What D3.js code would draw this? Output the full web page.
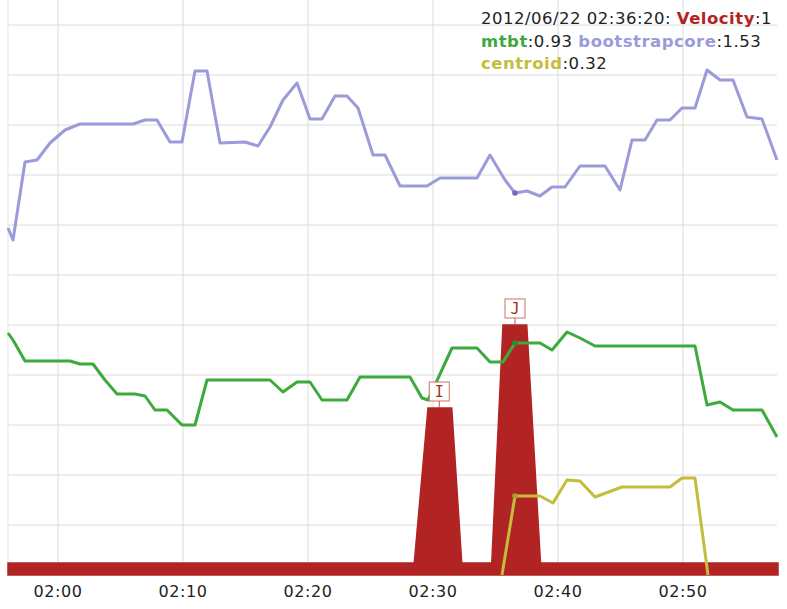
<!DOCTYPE html>
<html><head><meta charset="utf-8">
<script src="https://cdn.jsdelivr.net/npm/d3@7"></script>
<style>body{margin:0;background:#fff}svg{display:block}</style>
</head><body>
<svg id="c" width="787" height="609"></svg>
<script>
// minutes after 02:00, values in grid units
const tickMinutes = [0,10,20,30,40,50];
const tickLabels = ["02:00","02:10","02:20","02:30","02:40","02:50"];
const bootT = [-4,-3.6,-2.64,-1.68,-0.64,0.56,1.76,6,6.96,7.92,8.96,9.92,10.96,11.92,12.96,14.96,16,16.96,18,19.12,20.16,21.12,22.16,23.12,24,25.2,26.16,27.36,29.52,30.56,33.52,34.56,35.76,36.56,37.52,38.56,39.52,40.56,41.76,43.76,44.96,45.92,46.96,47.92,48.96,49.92,50.96,51.92,52.96,54,55.12,56.32,57.52];
const bootV = [6.94,6.7,8.26,8.3,8.64,8.9,9.02,9.02,9.1,9.1,8.66,8.66,10.08,10.08,8.64,8.66,8.58,8.96,9.5,9.84,9.12,9.12,9.58,9.58,9.34,8.4,8.4,7.78,7.78,7.94,7.94,8.4,7.9,7.64,7.68,7.58,7.76,7.76,8.18,8.18,7.7,8.7,8.7,9.1,9.1,9.34,9.34,10.1,9.9,9.9,9.16,9.12,8.3];
const mtbtT = [-4,-3.6,-2.64,0.96,1.76,2.8,3.76,4.72,6.16,6.96,7.76,8.72,9.92,10.96,11.92,16.96,18,19.12,20.16,21.12,23.12,24.16,28.16,29.12,29.6,30.16,31.52,33.52,34.56,35.6,36.56,38.56,39.52,40.72,41.76,42.96,50.96,51.92,52.96,54,56.32,57.52];
const mtbtV = [4.84,4.7,4.28,4.28,4.22,4.22,3.9,3.62,3.62,3.58,3.3,3.3,3,3,3.9,3.9,3.66,3.86,3.86,3.5,3.5,3.96,3.96,3.54,3.5,3.8,4.54,4.54,4.26,4.26,4.64,4.64,4.5,4.86,4.74,4.58,4.58,3.4,3.46,3.3,3.3,2.76];
const centT = [35.52,36.56,38.56,39.6,40.72,41.76,42.96,45.12,48.96,49.92,50.96,52];
const centV = [0,1.58,1.58,1.44,1.9,1.88,1.56,1.76,1.76,1.94,1.94,0];
const velT = [-4,28.5,29.6,31.5,32.3,34.7,35.6,37.5,38.6,57.6];
const velV = [0.24,0.24,3.34,3.34,0.24,0.24,5,5,0.24,0.24];
const flags = [{t:30.5,v:3.34,label:"I"},{t:36.56,v:5,label:"J"}];
const hoverT = 36.56;

const svg = d3.select("#c");
const x = d3.scaleLinear().domain([-4,57.52]).range([8,777]);
const y = d3.scaleLinear().domain([0,11.5]).range([575,0]);

const g = svg.append("g");
g.selectAll(".hg").data(d3.range(1,12)).join("line")
 .attr("x1",8).attr("x2",777).attr("y1",d=>y(d)).attr("y2",d=>y(d))
 .attr("stroke","#dcdcdc").attr("stroke-width",1);
g.selectAll(".vg").data(tickMinutes).join("line")
 .attr("x1",d=>x(d)).attr("x2",d=>x(d)).attr("y1",0).attr("y2",575)
 .attr("stroke","#dcdcdc").attr("stroke-width",1);
g.append("line").attr("x1",8).attr("x2",8).attr("y1",0).attr("y2",575).attr("stroke","#e6e6e6");

const vel = velT.map((t,i)=>[t,velV[i]]);
g.append("path").datum(vel)
 .attr("d",d3.area().x(d=>x(d[0])).y0(y(0)).y1(d=>y(d[1])))
 .attr("fill","#b22424").attr("stroke","#b22424").attr("stroke-width",1.5);

const line = d3.line().x(d=>x(d[0])).y(d=>y(d[1]));
function drawLine(T,V,color){
  g.append("path").datum(T.map((t,i)=>[t,V[i]]))
   .attr("d",line).attr("fill","none").attr("stroke",color)
   .attr("stroke-width",3).attr("stroke-linejoin","round");
}
drawLine(bootT,bootV,"#9b9bda");
drawLine(mtbtT,mtbtV,"#3daa3d");
drawLine(centT,centV,"#c4bd3c");

[[bootT,bootV,"#6d6dc0"],[mtbtT,mtbtV,"#2a8f2a"],[centT,centV,"#a9a22a"]].forEach(([T,V,c])=>{
  const i = T.indexOf(hoverT);
  g.append("circle").attr("cx",x(T[i])).attr("cy",y(V[i])).attr("r",2.8).attr("fill",c);
});

flags.forEach(f=>{
  const cx=x(f.t), top=y(f.v);
  g.append("line").attr("x1",cx).attr("x2",cx).attr("y1",top).attr("y2",top-7).attr("stroke","#c05040");
  g.append("rect").attr("x",cx-10).attr("y",top-26).attr("width",20).attr("height",19)
   .attr("fill","#fff").attr("stroke","#d07060").attr("stroke-width",1);
  g.append("text").attr("x",cx).attr("y",top-11).attr("text-anchor","middle")
   .attr("font-family","DejaVu Sans Mono").attr("font-size",15).attr("fill","#a03020").text(f.label);
});

g.selectAll(".xl").data(tickMinutes).join("text")
 .attr("x",d=>x(d)).attr("y",597).attr("text-anchor","middle")
 .attr("font-family","DejaVu Sans").attr("font-size",16).attr("letter-spacing",0.6).attr("fill","#222")
 .text((d,i)=>tickLabels[i]);

const L = svg.append("text").attr("font-family","DejaVu Sans").attr("font-size",16.5).attr("letter-spacing",0.5).attr("fill","#222");
const l1 = L.append("tspan").attr("x",481).attr("y",24);
l1.append("tspan").text("2012/06/22 02:36:20: ");
l1.append("tspan").attr("font-weight","bold").attr("fill","#b22424").text("Velocity");
l1.append("tspan").text(":1");
const l2 = L.append("tspan").attr("x",481).attr("y",47);
l2.append("tspan").attr("font-weight","bold").attr("fill","#3daa3d").text("mtbt");
l2.append("tspan").text(":0.93 ");
l2.append("tspan").attr("font-weight","bold").attr("fill","#9b9bda").text("bootstrapcore");
l2.append("tspan").text(":1.53");
const l3 = L.append("tspan").attr("x",481).attr("y",69);
l3.append("tspan").attr("font-weight","bold").attr("fill","#c4bd3c").text("centroid");
l3.append("tspan").text(":0.32");
</script>
</body></html>
